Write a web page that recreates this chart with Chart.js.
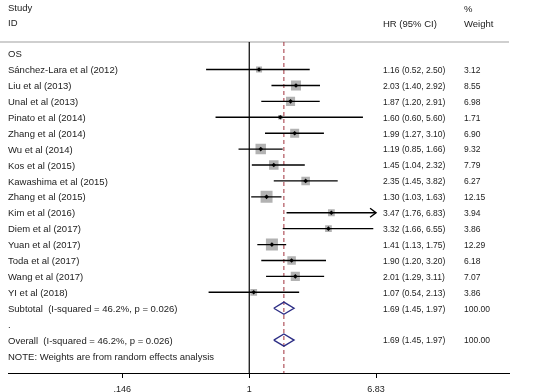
<!DOCTYPE html>
<html>
<head>
<meta charset="utf-8">
<script src="https://cdn.jsdelivr.net/npm/chart.js@4/dist/chart.umd.min.js"></script>
<style>
  html, body { margin: 0; padding: 0; background: #fff; }
  #wrap { width: 538px; height: 392px; position: relative; }
</style>
</head>
<body>
<div id="wrap"><canvas id="forest"></canvas></div>
<script>
// study level data
const groupLabel = 'OS';
const studies = [
  'Sánchez-Lara et al (2012)', 'Liu et al (2013)', 'Unal et al (2013)', 'Pinato et al (2014)',
  'Zhang et al (2014)', 'Wu et al (2014)', 'Kos et al (2015)', 'Kawashima et al (2015)',
  'Zhang et al (2015)', 'Kim et al (2016)', 'Diem et al (2017)', 'Yuan et al (2017)',
  'Toda et al (2017)', 'Wang et al (2017)', 'YI et al (2018)'
];
const hr     = [1.16, 2.03, 1.87, 1.60, 1.99, 1.19, 1.45, 2.35, 1.30, 3.47, 3.32, 1.41, 1.90, 2.01, 1.07];
const lo     = [0.52, 1.40, 1.20, 0.60, 1.27, 0.85, 1.04, 1.45, 1.03, 1.76, 1.66, 1.13, 1.20, 1.29, 0.54];
const hi     = [2.50, 2.92, 2.91, 5.60, 3.10, 1.66, 2.32, 3.82, 1.63, 6.83, 6.55, 1.75, 3.20, 3.11, 2.13];
const weight = [3.12, 8.55, 6.98, 1.71, 6.90, 9.32, 7.79, 6.27, 12.15, 3.94, 3.86, 12.29, 6.18, 7.07, 3.86];

// pooled estimates
const pooledLabels = ['Subtotal  (I-squared = 46.2%, p = 0.026)', 'Overall  (I-squared = 46.2%, p = 0.026)'];
const pooledHR     = [1.69, 1.69];
const pooledLo     = [1.45, 1.45];
const pooledHi     = [1.97, 1.97];
const pooledWeight = [100.00, 100.00];
const noteText = 'NOTE: Weights are from random effects analysis';

const xTicks = [0.146, 1, 6.83];
const xTickLabels = ['.146', '1', '6.83'];

// row layout: 0 = group label, 1..15 studies, 16 subtotal, 17 '.', 18 overall, 19 note
const studyRows = studies.map((s, i) => i + 1);
const subtotalRow = studies.length + 1;
const pooledRows = [subtotalRow, subtotalRow + 2];
const noteRow = subtotalRow + 3;
const yMin = -0.73, yMax = 20.07;
const clipHi = xTicks[xTicks.length - 1];

const family = '"Liberation Sans", Arial, sans-serif';
const labelFont = '9.5px ' + family;
const numFont = '8.5px ' + family;
const textColor = '#222';

const ciData = [];
studies.forEach((s, i) => {
  ciData.push({ x: lo[i], y: studyRows[i] });
  ciData.push({ x: Math.min(hi[i], clipHi), y: studyRows[i] });
  ciData.push({ x: hi[i], y: null });
});

const dh = 0.38;
const diamondData = [];
pooledHR.forEach((v, k) => {
  const r = pooledRows[k];
  diamondData.push({ x: pooledLo[k], y: r }, { x: v, y: r - dh }, { x: pooledHi[k], y: r },
                   { x: v, y: r + dh }, { x: pooledLo[k], y: r }, { x: v, y: null });
});

const fmt = v => v.toFixed(2);

const textPlugin = {
  id: 'forestText',
  beforeDraw(chart) {
    const { ctx, chartArea } = chart;
    ctx.save();
    ctx.strokeStyle = '#cfcfcf';
    ctx.lineWidth = 2;
    ctx.beginPath();
    ctx.moveTo(0, chartArea.top);
    ctx.lineTo(chartArea.right, chartArea.top);
    ctx.stroke();
    ctx.restore();
  },
  afterDraw(chart) {
    const { ctx, scales } = chart;
    const y = scales.y, x = scales.x;
    const rowY = r => y.getPixelForValue(r) + 1;
    ctx.save();
    ctx.fillStyle = textColor;
    ctx.textBaseline = 'middle';
    ctx.textAlign = 'left';
    const cName = 8, cHR = 383, cW = 464;
    ctx.font = labelFont;
    ctx.fillText('Study', cName, 8);
    ctx.fillText('ID', cName, 23);
    ctx.fillText('%', cW, 9);
    ctx.fillText('HR (95% CI)', cHR, 24);
    ctx.fillText('Weight', cW, 24);

    ctx.fillText(groupLabel, cName, rowY(0));
    studies.forEach((s, i) => ctx.fillText(s, cName, rowY(studyRows[i])));
    pooledLabels.forEach((s, k) => ctx.fillText(s, cName, rowY(pooledRows[k])));
    ctx.fillText('.', cName, rowY(subtotalRow + 1));
    ctx.fillText(noteText, cName, rowY(noteRow));

    ctx.font = numFont;
    studies.forEach((s, i) => {
      const py = rowY(studyRows[i]);
      ctx.fillText(`${fmt(hr[i])} (${fmt(lo[i])}, ${fmt(hi[i])})`, cHR, py);
      ctx.fillText(fmt(weight[i]), cW, py);
    });
    pooledLabels.forEach((s, k) => {
      const py = rowY(pooledRows[k]);
      ctx.fillText(`${fmt(pooledHR[k])} (${fmt(pooledLo[k])}, ${fmt(pooledHi[k])})`, cHR, py);
      ctx.fillText(fmt(pooledWeight[k]), cW, py);
    });

    // arrowheads for intervals running past the axis
    ctx.strokeStyle = '#000';
    ctx.lineWidth = 1.4;
    studies.forEach((s, i) => {
      if (hi[i] >= clipHi) {
        const px = x.getPixelForValue(clipHi), py = y.getPixelForValue(studyRows[i]);
        ctx.beginPath();
        ctx.moveTo(px - 6, py - 4.5);
        ctx.lineTo(px, py);
        ctx.lineTo(px - 6, py + 4.5);
        ctx.stroke();
      }
    });
    ctx.restore();
  }
};

new Chart(document.getElementById('forest'), {
  type: 'scatter',
  data: {
    datasets: [
      {
        type: 'line', data: [{ x: 1, y: yMin }, { x: 1, y: yMax }],
        borderColor: '#000', borderWidth: 1.2, pointRadius: 0, order: 6
      },
      {
        type: 'line', data: [{ x: pooledHR[1], y: yMin }, { x: pooledHR[1], y: yMax }],
        borderColor: '#a0303c', borderWidth: 1, borderDash: [4, 3], pointRadius: 0, order: 5
      },
      {
        data: studyRows.map((r, i) => ({ x: hr[i], y: r })),
        pointStyle: 'rect', pointRadius: weight.map(w => Math.sqrt(w) * 2.42),
        backgroundColor: '#b2b2b2', borderWidth: 0, order: 4
      },
      {
        type: 'line', data: ciData, spanGaps: false,
        borderColor: '#000', borderWidth: 1.4, pointRadius: 0, order: 3
      },
      {
        data: studyRows.map((r, i) => ({ x: hr[i], y: r })),
        pointStyle: 'rectRot', pointRadius: 2.3, backgroundColor: '#000', borderWidth: 0, order: 2
      },
      {
        type: 'line', data: diamondData, spanGaps: false,
        borderColor: '#2e2f86', borderWidth: 1.4, pointRadius: 0, order: 1
      }
    ]
  },
  options: {
    responsive: true,
    maintainAspectRatio: false,
    animation: false,
    events: [],
    layout: { padding: { top: 42, left: 2, right: 29, bottom: 0 } },
    plugins: { legend: { display: false }, tooltip: { enabled: false } },
    scales: {
      x: {
        type: 'logarithmic',
        bounds: 'data',
        min: 0.02604, max: 51.2,
        afterBuildTicks: axis => { axis.ticks = xTicks.map(v => ({ value: v })); },
        afterFit: axis => { axis.height = 19; },
        ticks: {
          autoSkip: false, maxRotation: 0, padding: 6,
          color: textColor, font: { family: family, size: 9 },
          callback: (v, i) => xTickLabels[i]
        },
        grid: { display: true, drawOnChartArea: false, drawTicks: true, tickLength: 5, color: '#000', lineWidth: 1 },
        border: { display: true, color: '#000', width: 1 }
      },
      y: {
        type: 'linear', reverse: true, min: yMin, max: yMax, display: false
      }
    }
  },
  plugins: [textPlugin]
});
</script>
</body>
</html>
